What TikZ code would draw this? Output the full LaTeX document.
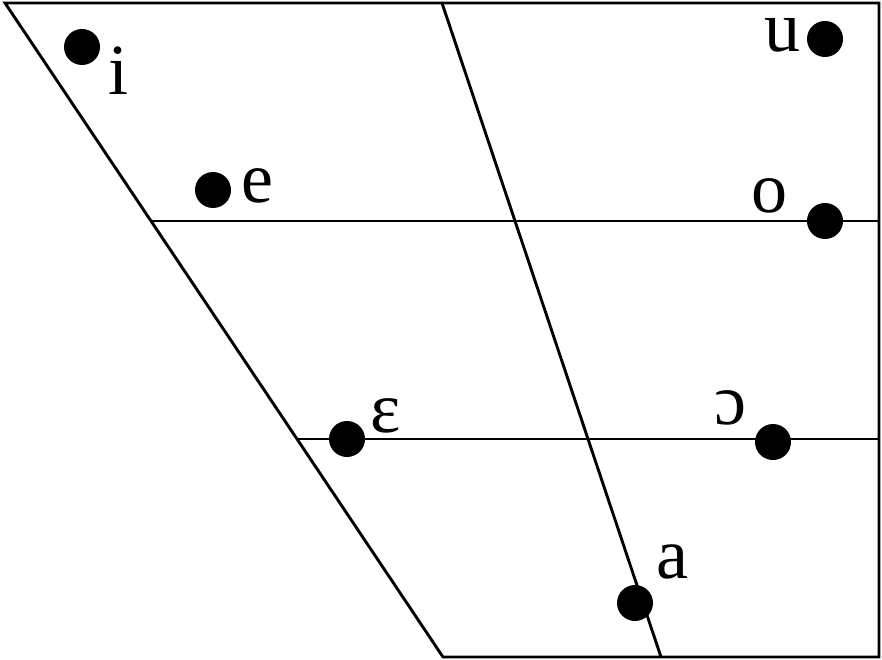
\documentclass[tikz,border=0pt]{standalone}
\usepackage{fontspec}
\setmainfont{Liberation Serif}
\usetikzlibrary{calc}
\tikzset{
	chart/.style={line width=2.9pt},
	vowel/.style={circle,fill=black,inner sep=0pt,minimum size=36pt},
	vlabel/.style={anchor=base,inner sep=0pt,text height=1ex,text depth=0pt,font=\fontsize{72}{80}\selectfont},
}

\begin{document}
\begin{tikzpicture}[x=1pt,y=-1pt]
	\useasboundingbox (0,0) rectangle (882,660);
	% trapezoid
	\coordinate (tl) at (5,3);
	\coordinate (tr) at (879,3);
	\coordinate (br) at (879,657);
	\coordinate (bl) at (443,657);
	\draw[chart] (tl) -- (tr) -- (br) -- (bl) -- cycle;
	\draw[chart] ($(tl)!1/3!(bl)$) -- ($(tr)!1/3!(br)$);
	\draw[chart] ($(tl)!2/3!(bl)$) -- ($(tr)!2/3!(br)$);
	\draw[chart] ($(tl)!.5!(tr)$) -- ($(bl)!.5!(br)$);
	% vowels
	\node[vowel] (i) at (82,47) {};
	\node[vowel] (e) at (213,190) {};
	\node[vowel] (u) at (825,39) {};
	\node[vowel] (o) at (825,221) {};
	\node[vowel] (eps) at (347,439) {};
	\node[vowel] (oo) at (773,442) {};
	\node[vowel] (a) at (635,603) {};
	\node[vlabel] (i-lab) at (118,95) {i};
	\node[vlabel] (e-lab) at (257,203) {e};
	\node[vlabel] (u-lab) at (782,52) {u};
	\node[vlabel] (o-lab) at (769,213) {o};
	\node[vlabel] (eps-lab) at (386,432) {ɛ};
	\node[vlabel] (oo-lab) at (730,424) {ɔ};
	\node[vlabel] (a-lab) at (672,578) {a};
\end{tikzpicture}
\end{document}
